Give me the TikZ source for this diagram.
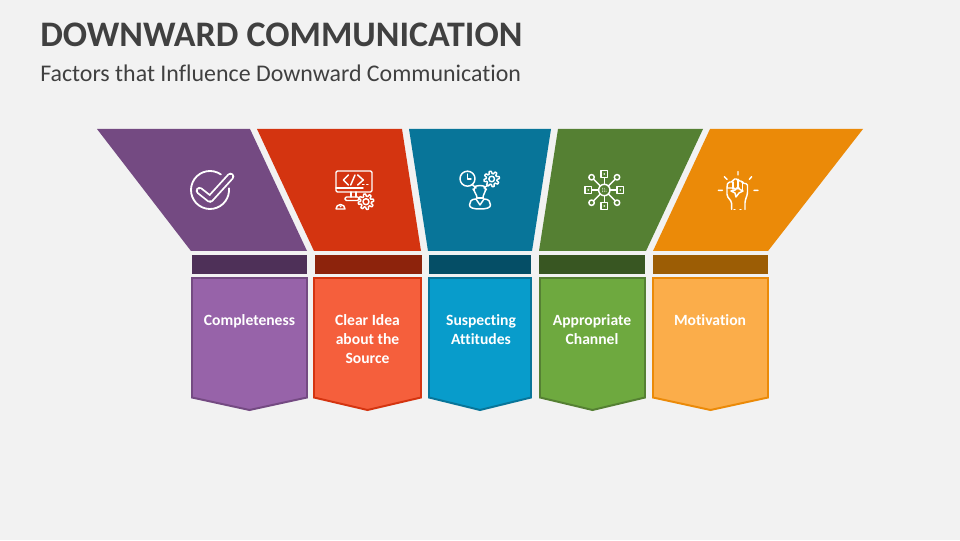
\documentclass[tikz,border=0pt]{standalone}
\usepackage{fontspec}
\setmainfont[Ligatures=NoCommon]{Carlito}
\definecolor{pagebg}{HTML}{F2F2F2}
\definecolor{titlegray}{HTML}{404040}
\definecolor{purpleA}{HTML}{744A82}
\definecolor{purpleB}{HTML}{4E3058}
\definecolor{purpleC}{HTML}{9763A9}
\definecolor{redA}{HTML}{D43410}
\definecolor{redB}{HTML}{8D230C}
\definecolor{redC}{HTML}{F55F3C}
\definecolor{blueA}{HTML}{087599}
\definecolor{blueB}{HTML}{054E66}
\definecolor{blueC}{HTML}{089CCB}
\definecolor{greenA}{HTML}{558033}
\definecolor{greenB}{HTML}{385622}
\definecolor{greenC}{HTML}{6EA93F}
\definecolor{orangeA}{HTML}{EB8A08}
\definecolor{orangeB}{HTML}{9C5D05}
\definecolor{orangeC}{HTML}{FBAD4A}
\tikzset{
	icon/.style={draw=white,line width=1.05pt,line join=round,line cap=round},
	tagbox/.style={line width=1.4pt,line join=miter},
	tagtext/.style={text=white,align=center,inner sep=0pt,font=\bfseries\fontsize{11.1}{13.47}\selectfont},
}
\newcommand{\tagshape}[5]{\filldraw[tagbox,fill=#4,draw=#5] (#1,262) -- (#2,262) -- (#2,142.5) -- (#3,130) -- (#1,142.5) -- cycle;}
\newcommand{\gearshape}[3]{\draw[icon,fill=#3] plot[domain=0:360,samples=97] ({\x}:{#1+#2*tanh(3*sin(8*\x))}) -- cycle;}
\begin{document}
\begin{tikzpicture}[x=0.025cm,y=0.025cm]
	\useasboundingbox (0,0) rectangle (960,540);
	\fill[pagebg] (0,0) rectangle (960,540);
	\node[anchor=west,inner sep=0pt,text=titlegray,font=\bfseries\fontsize{25.55}{30}\selectfont] (title) at (40,505.5) {DOWNWARD COMMUNICATION};
	\node[anchor=west,inner sep=0pt,text=titlegray,font=\fontsize{17}{20}\selectfont] (subtitle) at (40,466.5) {Factors that Influence Downward Communication};
	\fill[purpleA] (97,411) -- (250,411) -- (307,289) -- (191,289) -- cycle;
	\fill[redA] (257,411) -- (402,411) -- (421,289) -- (314,289) -- cycle;
	\fill[blueA] (409,411) -- (551,411) -- (532,289) -- (428,289) -- cycle;
	\fill[greenA] (558,411) -- (703,411) -- (646,289) -- (539,289) -- cycle;
	\fill[orangeA] (710,411) -- (863,411) -- (768,289) -- (653,289) -- cycle;
	\fill[purpleB] (192,266) rectangle (307,285);
	\fill[redB] (315,266) rectangle (422,285);
	\fill[blueB] (429,266) rectangle (531,285);
	\fill[greenB] (539,266) rectangle (645,285);
	\fill[orangeB] (653,266) rectangle (768,285);
	\tagshape{192}{307}{249.5}{purpleC}{purpleA}
	\tagshape{314}{421}{367.5}{redC}{redA}
	\tagshape{429}{531}{480}{blueC}{blueA}
	\tagshape{540}{645}{592.5}{greenC}{greenA}
	\tagshape{653}{768}{710.5}{orangeC}{orangeA}
	\node[tagtext] (completeness) at (249.5,218.6) {Completeness};
	\node[tagtext] (clearidea) at (367.5,201) {Clear Idea\\about the\\Source};
	\node[tagtext] (suspecting) at (481,210.5) {Suspecting\\Attitudes};
	\node[tagtext] (channel) at (592,210.5) {Appropriate\\Channel};
	\node[tagtext] (motivation) at (710,220) {Motivation};
	\begin{scope}[shift={(210,350)}]
		\draw[icon,line width=1.3pt] (55:19) arc (55:365:19);
		\draw[white,line width=5.4pt,line cap=round,line join=round] (-10.5,-0.7) -- (0,-9) -- (20.5,13.5);
		\draw[purpleA,line width=2.8pt,line cap=round,line join=round] (-10.5,-0.7) -- (0,-9) -- (20.5,13.5);
	\end{scope}
	\begin{scope}[shift={(355,350)}]
		\draw[icon,rounded corners=1pt] (-19,-2) -- (-19,19) -- (17,19) -- (17,-2) -- cycle;
		\draw[icon] (-19,2) -- (8,2);
		\draw[icon] (-6.7,15) -- (-11.7,10) -- (-6.7,5);
		\draw[icon] (0,15) -- (-4.3,5);
		\draw[icon] (2.7,15) -- (8.3,10) -- (2.7,5);
		\draw[icon,dotted] (7.5,5.5) -- (13,5.5);
		\draw[icon] (-4,-2) -- (-4,-7) (1,-2) -- (1,-7);
		\draw[icon,rounded corners=1pt] (-10,-7) rectangle (4,-10.5);
		\begin{scope}[shift={(11,-11.7)}]
			\gearshape{6.6}{1.2}{redA}
			\draw[icon] (0,0) circle (3);
		\end{scope}
		\draw[icon] (-19,-19) -- (-10,-19) arc (0:180:4.5) -- cycle;
		\fill[white] (-14.5,-16.5) circle (1);
	\end{scope}
	\begin{scope}[shift={(480,350)}]
		\draw[icon] (-12.5,11.3) circle (7.5);
		\draw[icon] (-12.5,16) -- (-12.5,11) -- (-9,11);
		\begin{scope}[shift={(11.7,11)}]
			\gearshape{6.6}{1.2}{blueA}
			\draw[icon] (0,0) circle (2.8);
		\end{scope}
		\draw[icon] (-7.3,5) -- (-4,2) (8,5) -- (4,2);
		\draw[icon] (-3,-8) .. controls (-3,-4) and (-6,-3) .. (-6,1) .. controls (-6,4) and (-3,4.5) .. (0,4.5) .. controls (3,4.5) and (5.5,4) .. (5.5,1) .. controls (5.5,-3) and (3,-4) .. (3,-8);
		\draw[icon] (-6,-0.5) -- (-7,1) (5.5,-0.5) -- (6.5,1);
		\draw[icon] (-3.5,-8) -- (3.5,-8);
		\draw[icon] (-4,-9) .. controls (-9,-9) and (-10.5,-12) .. (-10.5,-15) .. controls (-10.5,-18) and (-6,-19) .. (0,-19) .. controls (6,-19) and (10.5,-18) .. (10.5,-15) .. controls (10.5,-12) and (9,-9) .. (4,-9);
		\draw[icon] (-4,-9) -- (0,-15) -- (4,-9);
	\end{scope}
	\begin{scope}[shift={(604.3,350)}]
		\draw[icon] (0,0) circle (5.7);
		\foreach \dotx/\doty in {-1.7/1.7,0/1.7,-1.7/0,0/0,-1.7/-1.7,0/-1.7,1.7/0,1.7/-1.7}
			\fill[white] (\dotx,\doty) circle (0.45);
		\foreach \ang in {0,90,180,270}{
			\draw[icon] (\ang:5.7) -- (\ang:13);
			\draw[icon,fill=greenA] ([shift={(\ang:16)}]-3.3,-3.3) rectangle ([shift={(\ang:16)}]3.3,3.3);
			\fill[white] (\ang:16) circle (0.9);
		}
		\foreach \ang in {45,135,225,315}{
			\draw[icon] (\ang:5.7) -- (\ang:15.5);
			\draw[icon,fill=greenA] (\ang:18) circle (2.7);
		}
	\end{scope}
	\begin{scope}[shift={(738,350)}]
		\draw[icon] (0,18.3) -- (0,15) (-19.7,-0.3) -- (-15.7,-0.3) (16,-0.3) -- (20,-0.3) (-13.7,13.3) -- (-11,10.7) (13.7,13.3) -- (11.3,10.7);
		\draw[icon,rounded corners=1.2pt] (-6.3,-19.3) -- (-6.3,-12) -- (-11,-6) -- (-11,4) -- (-10,8) -- (-5,8) -- (-5,11) -- (0,11) -- (0,9) -- (4.5,9) -- (4.5,6.5) -- (9.5,6.5) -- (9.5,-4) -- (7,-11) -- (7,-19.3);
		\draw[icon] (-5,8) -- (-5,1) (0,9) -- (0,1) (4.5,6.5) -- (4.5,0);
		\draw[icon] (-11,2) -- (-6,2) -- (-3,1.5);
		\draw[icon] (-7,-1) -- (-3,-3) -- (-2,-7) -- (1,-3) -- (5,-1) -- (2,0.5) -- (0,3) -- (-3,0) -- (-7,-1);
		\draw[icon] (-4,-19.3) -- (-3,-19.3) (2,-19.3) -- (3,-19.3);
	\end{scope}
\end{tikzpicture}
\end{document}
